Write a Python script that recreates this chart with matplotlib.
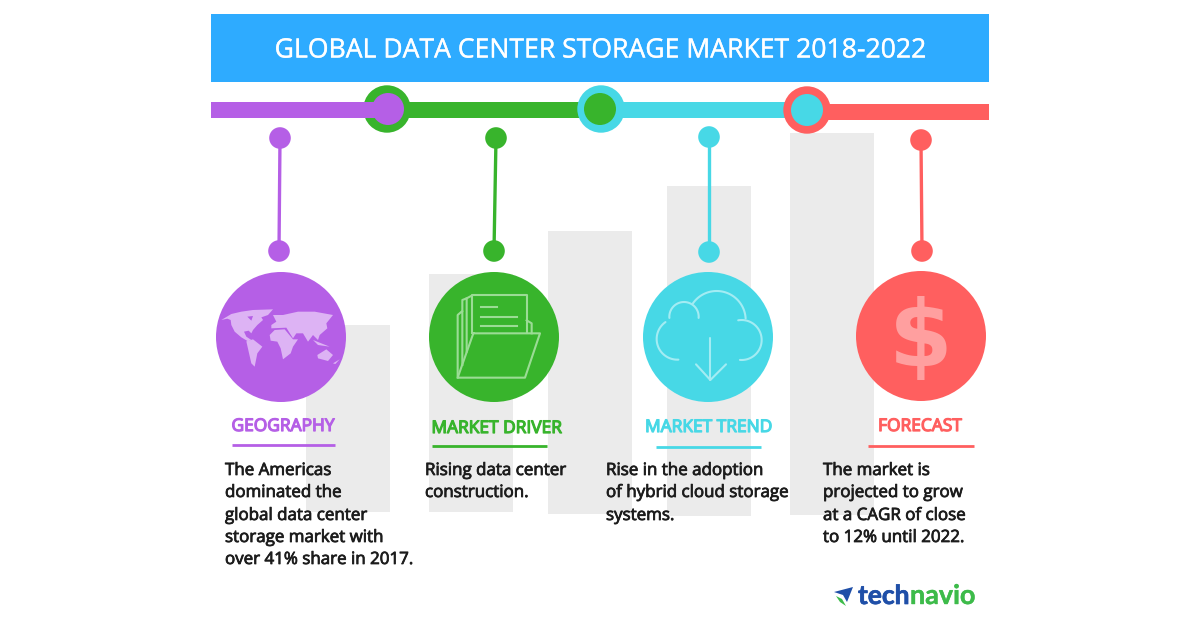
import numpy as np
import matplotlib
matplotlib.use("Agg")
import matplotlib.pyplot as plt
import matplotlib.patheffects as pe
from matplotlib.patches import Circle, Polygon, Rectangle

# ---- content ----
title = "GLOBAL DATA CENTER STORAGE MARKET 2018-2022"
bar_values = [187, 238, 283, 330, 382]
bar_base = [512, 512, 514, 516, 515]
bar_left = [306, 429, 548, 667, 790]
headings = ["GEOGRAPHY", "MARKET DRIVER", "MARKET TREND", "FORECAST"]
bodies = [
    ["The Americas", "dominated the", "global data center", "storage market with", "over 41% share in 2017."],
    ["Rising data center", "construction."],
    ["Rise in the adoption", "of hybrid cloud storage", "systems."],
    ["The market is", "projected to grow", "at a CAGR of close", "to 12% until 2022."],
]
PURPLE, GREEN, CYAN, RED = "#B55FE6", "#38B42C", "#47D8E6", "#FF5F5F"
colors = [PURPLE, GREEN, CYAN, RED]
lights = ["#DDB3F4", "#9BDC95", "#A3ECF3", "#FF9F9F"]

fig = plt.figure(figsize=(12, 6.27), dpi=100, facecolor="white")
ax = fig.add_axes([0, 0, 1, 1])
ax.set_xlim(0, 1200)
ax.set_ylim(627, 0)
ax.axis("off")
FONT = "Open Sans"

def heavy(c, w):
    return [pe.withStroke(linewidth=w, foreground=c)]

# grey bars
ax.bar(bar_left, [-v for v in bar_values], width=84, bottom=bar_base, align="edge",
       color="#EBEBEB", zorder=1)

# header
ax.add_patch(Rectangle((211, 14), 778, 68, fc="#2EABFF", lw=0, zorder=2))
ax.text(601, 50.5, title, color="white", ha="center", va="center", family=FONT,
        fontsize=19.15, zorder=3, path_effects=heavy("white", 0.25))

# timeline
ax.add_patch(Rectangle((808, 104), 181, 15.5, fc=RED, lw=0, zorder=2))
ax.add_patch(Rectangle((601, 102), 206, 16, fc=CYAN, lw=0, zorder=3))
ax.add_patch(Rectangle((388, 101.5), 212, 16, fc=GREEN, lw=0, zorder=3))
ax.add_patch(Rectangle((211, 102), 176, 16, fc=PURPLE, lw=0, zorder=4))
rings = [(387, 109, GREEN, PURPLE, 388), (601, 109, CYAN, GREEN, 600), (807, 110, RED, CYAN, 807)]
for cx, cy, outer, inner, ix in rings:
    ax.add_patch(Circle((cx, cy), 23.7, fc=outer, lw=0, zorder=3.5))
    ax.add_patch(Circle((ix, cy), 16, fc=inner, lw=0, zorder=5))

# connectors and icon discs
conn = [((280, 138), (279, 251)), ((496, 138), (494, 251)), ((709, 137), (709, 252)), ((921, 140), (922, 251))]
discs = [(281, 337), (494, 337), (708, 337), (921, 336)]
for (a, b), d, c in zip(conn, discs, colors):
    ax.plot([a[0], b[0]], [a[1], b[1]], color=c, lw=2.4, zorder=4, solid_capstyle="butt")
    ax.add_patch(Circle(a, 10.8, fc=c, lw=0, zorder=5))
    ax.add_patch(Circle(b, 10.8, fc=c, lw=0, zorder=5))
    ax.add_patch(Circle(d, 65, fc=c, lw=0, zorder=5))

# headings and body text
head_x = [283, 497, 709, 920]
head_y = [427, 429, 428, 427]
rules = [(232, 335, 445), (432, 547, 445.5), (656, 761, 447), (868, 974, 446)]
body_x = [225, 425, 606, 823]
line_y = [471, 493, 516, 538, 560]
for i in range(4):
    ax.text(head_x[i], head_y[i], headings[i], color=colors[i], ha="center", va="center",
            family=FONT, fontsize=12.5, zorder=6, path_effects=heavy(colors[i], 0.9))
    x0, x1, y = rules[i]
    ax.plot([x0, x1], [y, y], color=colors[i], lw=2, zorder=6, solid_capstyle="butt")
    for line, y in zip(bodies[i], line_y):
        ax.text(body_x[i], y, line, color="#1C1C1C", ha="left", va="center", family=FONT,
                fontsize=12.2, zorder=6, path_effects=heavy("#1C1C1C", 0.55))

# ---- icons ----
def zm(pts):
    return [(218 + x / 3, 300 + y / 3) for x, y in pts]

def z1(pts):
    return [(205 + x / 3, 85 + y / 3) for x, y in pts]

def z2(pts):
    return [(600 + x / 3, 85 + y / 3) for x, y in pts]

# world map
land = [
    [(10, 60), (40, 42), (70, 35), (105, 30), (165, 28), (150, 45), (130, 52), (135, 60), (118, 75), (105, 90),
     (100, 100), (92, 92), (78, 95), (85, 110), (100, 120), (90, 124), (70, 112), (50, 95), (40, 75), (38, 60), (28, 56)],
    [(85, 124), (105, 118), (133, 140), (118, 160), (110, 200), (100, 190), (92, 155)],
    [(155, 105), (170, 90), (200, 88), (225, 118), (240, 118), (225, 140), (218, 160), (195, 178), (188, 145),
     (178, 125), (158, 122)],
    [(165, 45), (195, 45), (240, 35), (290, 35), (345, 45), (325, 70), (328, 85), (305, 105),
     (300, 120), (285, 105), (270, 125), (255, 100), (235, 100), (225, 115), (205, 83), (160, 85), (160, 75), (175, 65)],
    [(285, 120), (310, 130), (335, 140), (300, 135)],
    [(298, 165), (325, 148), (345, 165), (330, 183), (300, 175)],
    [(345, 190), (365, 178), (352, 192)],
]
for p in land:
    ax.add_patch(Polygon(zm(p), closed=True, fc=lights[0], zorder=6, lw=0))
ax.add_patch(Polygon(zm([(88, 50), (105, 48), (100, 62)]), closed=True, fc=PURPLE, zorder=6.5, lw=0))

# folder
fc = lights[1]
folder = [
    [(800, 745), (800, 630), (965, 630), (965, 745)],
    [(828, 665), (876, 665)], [(828, 695), (935, 695)], [(828, 724), (935, 724)],
    [(805, 745), (1005, 745), (960, 878), (758, 878), (805, 745)],
    [(758, 878), (758, 690), (772, 678), (772, 840)],
    [(772, 678), (772, 645), (785, 640), (785, 800)],
    [(785, 640), (800, 632)],
    [(965, 706), (980, 715), (980, 745)],
]
for p in folder:
    xs, ys = zip(*z1(p))
    ax.plot(xs, ys, color=fc, lw=1.5, zorder=6, solid_joinstyle="round")

# cloud
def arc(cx, cy, r, a0, a1):
    t = np.radians(np.linspace(a0, a1, 40))
    return z2(list(zip(cx + r * np.cos(t), cy + r * np.sin(t))))

cloud = [
    arc(232, 762, 62, 87, 235),
    arc(252, 695, 44, 175, 365),
    arc(350, 705, 87, 215, 357),
    arc(425, 765, 60, -100, 95),
    z2([(331, 760), (331, 885)]),
    z2([(288, 838), (331, 885), (378, 838)]),
]
for p in cloud:
    xs, ys = zip(*p)
    ax.plot(xs, ys, color=lights[2], lw=1.5, zorder=6, solid_capstyle="round")

# dollar
ax.text(920.5, 332, "$", color=lights[3], ha="center", va="center_baseline", family="DejaVu Sans",
        fontsize=66, weight="bold", zorder=6)

# logo
ax.add_patch(Polygon([(834, 592), (853, 587), (847, 602), (843, 595)], closed=True, fc="#1F4FA8", zorder=6, lw=0))
ax.add_patch(Polygon([(836, 596), (842, 599), (846, 606), (840, 602)], closed=True, fc="#3DBB4A", zorder=6, lw=0))
ax.text(858, 604, "tech", color="#1F4FA8", ha="left", va="baseline", family="Lato", fontsize=19,
        weight="bold", zorder=6, path_effects=heavy("#1F4FA8", 0.5))
ax.text(910, 604, "navio", color="#3DBB4A", ha="left", va="baseline", family="Lato", fontsize=19.4,
        weight="bold", zorder=6, path_effects=heavy("#3DBB4A", 0.3))

fig.savefig("out.png", dpi=100, facecolor="white")
